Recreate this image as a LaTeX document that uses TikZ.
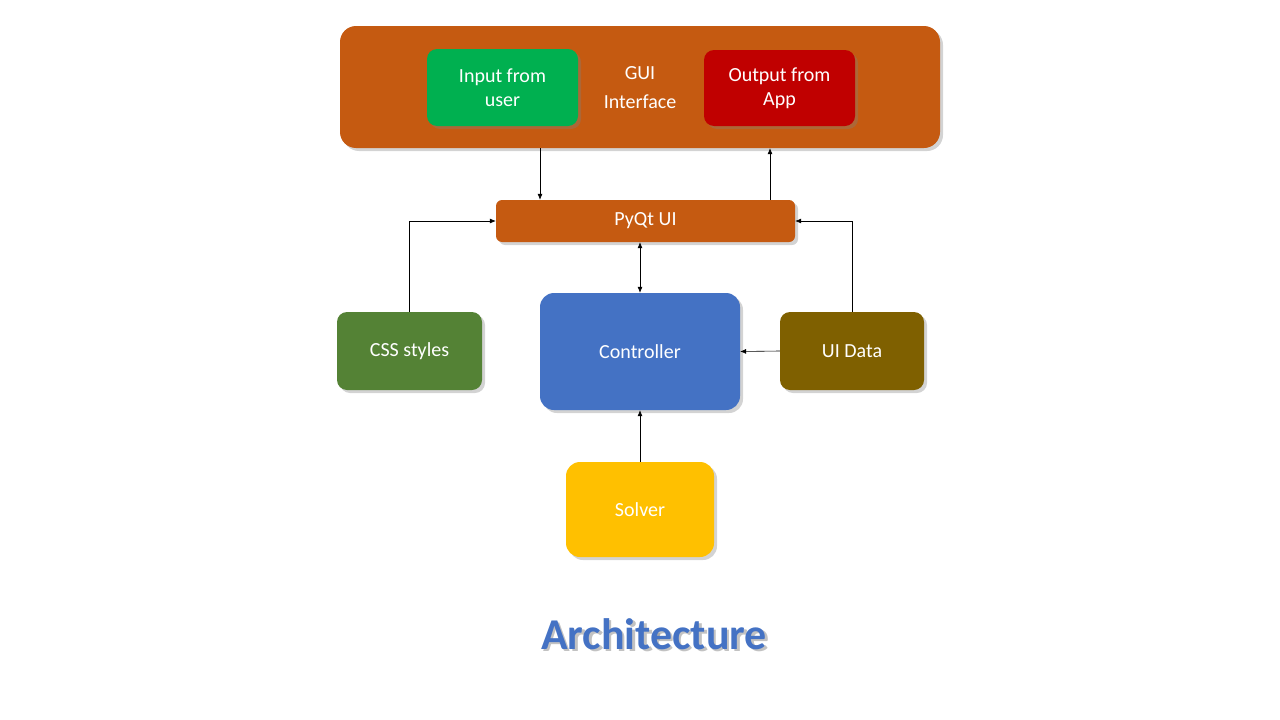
\documentclass[tikz,border=0pt]{standalone}
\usepackage{fontspec}
\setmainfont{Carlito}
\usetikzlibrary{shadows,arrows.meta}
\definecolor{cor}{HTML}{C55A11}
\definecolor{cgr}{HTML}{00B050}
\definecolor{crd}{HTML}{C00000}
\definecolor{ccss}{HTML}{548235}
\definecolor{cblu}{HTML}{4472C4}
\definecolor{cui}{HTML}{7F6000}
\definecolor{csol}{HTML}{FFC000}
\begin{document}
\begin{tikzpicture}[x=1pt,y=-1pt,
 box/.style={draw=none,rounded corners=#1,text=white,align=center,font=\fontsize{20}{24}\selectfont,
   drop shadow={shadow xshift=3pt,shadow yshift=-3pt,opacity=0.35}},
 box/.default=10pt,
 arr/.style={-{Latex[length=6pt,width=5pt]},black,line width=0.6pt}]
\useasboundingbox (0,0) rectangle (1280,720);
\node[box=16pt,fill=cor,minimum width=600pt,minimum height=122pt] (gui) at (640,87) {};
\node[box,fill=cgr,minimum width=151pt,minimum height=77pt] (in) at (502.5,87.5) {Input from\\user};
\node[box,fill=crd,minimum width=151pt,minimum height=76pt] (out) at (779.5,88) {Output from\\App};
\node[text=white,align=center,font=\fontsize{20}{29}\selectfont] (guit) at (640,88) {GUI\\Interface};
\node[box=6pt,fill=cor,minimum width=299pt,minimum height=42pt] (pyqt) at (645.5,221) {PyQt UI};
\node[box,fill=ccss,minimum width=145pt,minimum height=78pt] (css) at (409.5,351) {CSS styles};
\node[box=14pt,fill=cblu,minimum width=200pt,minimum height=117pt] (ctrl) at (640,351.5) {Controller};
\node[box,fill=cui,minimum width=144pt,minimum height=78pt] (uid) at (852,351) {UI Data};
\node[box=14pt,fill=csol,minimum width=148pt,minimum height=95pt] (sol) at (640,509.5) {Solver};
\node[text=cblu,font=\fontsize{44}{50}\selectfont\bfseries,
  drop shadow={}] (title) at (654,634) {};
\node[text=black!40,opacity=0.6,font=\fontsize{44}{50}\selectfont\bfseries] at (656.5,636.5) {Architecture};
\node[text=cblu,font=\fontsize{44}{50}\selectfont\bfseries] (ttl) at (654,634) {Architecture};
\draw[arr] (gui.south -| 540,0) -- (pyqt.north -| 540,0);
\draw[arr] (pyqt.north -| 770,0) -- (gui.south -| 770,0);
\draw[arr] (css.north) |- (pyqt.west);
\draw[arr] (uid.north) |- (pyqt.east);
\draw[{Latex[length=6pt,width=5pt]}-{Latex[length=6pt,width=5pt]},line width=0.6pt] (pyqt.south -| ctrl.north) -- (ctrl.north);
\draw[arr] (uid.west) -- (ctrl.east);
\draw[arr] (sol.north) -- (ctrl.south);
\end{tikzpicture}
\end{document}
